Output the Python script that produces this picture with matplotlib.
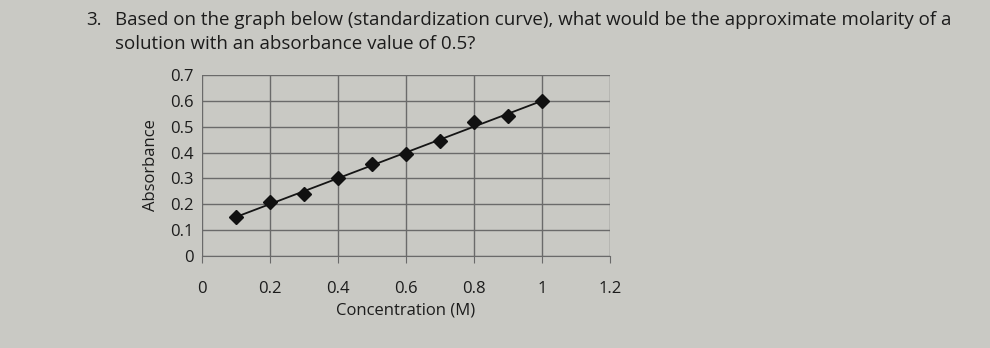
import numpy as np
import matplotlib.pyplot as plt

# standardization curve data
conc = [0.1, 0.2, 0.3, 0.4, 0.5, 0.6, 0.7, 0.8, 0.9, 1.0]
absorb = [0.15, 0.21, 0.24, 0.30, 0.355, 0.395, 0.445, 0.52, 0.54, 0.60]
x_ticks = [0, 0.2, 0.4, 0.6, 0.8, 1, 1.2]
y_ticks = [0, 0.1, 0.2, 0.3, 0.4, 0.5, 0.6, 0.7]

paper = '#c9c9c4'
grid_c = '#6a6a6a'
ink = '#1c1c1c'

plt.rcParams['font.family'] = ['Open Sans', 'DejaVu Sans']

fig = plt.figure(figsize=(9.9, 3.48), dpi=100)
fig.patch.set_facecolor(paper)

fig.text(86 / 990, 1 - 20 / 348, '3.', fontsize=13.5, color=ink, va='center')
fig.text(115 / 990, 1 - 20 / 348,
         'Based on the graph below (standardization curve), what would be the approximate molarity of a',
         fontsize=13.5, color=ink, va='center')
fig.text(115 / 990, 1 - 44 / 348, 'solution with an absorbance value of 0.5?',
         fontsize=13.5, color=ink, va='center')

ax = fig.add_axes([202 / 990, 1 - 256 / 348, 408 / 990, 181 / 348])
ax.set_facecolor(paper)
ax.set_xlim(0, 1.2)
ax.set_ylim(0, 0.7)
ax.set_xticks(x_ticks)
ax.set_yticks(y_ticks)
ax.set_xticklabels(['0', '0.2', '0.4', '0.6', '0.8', '1', '1.2'])
ax.set_yticklabels(['0', '0.1', '0.2', '0.3', '0.4', '0.5', '0.6', '0.7'])
ax.grid(True, color=grid_c, linewidth=1.0)
ax.set_axisbelow(True)
for s in ax.spines.values():
    s.set_visible(False)
ax.spines['bottom'].set_visible(True)
ax.spines['bottom'].set_color(grid_c)
ax.tick_params(labelsize=12, colors=ink)
ax.tick_params(axis='x', direction='out', length=5, color=grid_c, pad=13)
ax.tick_params(axis='y', length=0, pad=6)

# linear trendline through the standards
m, b = np.polyfit(conc, absorb, 1)
xs = np.array([conc[0], conc[-1]])
ax.plot(xs, m * xs + b, color='#151515', linewidth=1.3, zorder=3)
ax.plot(conc, absorb, 'D', color='#111111', markersize=7, zorder=4, clip_on=False)

ax.set_xlabel('Concentration (M)', fontsize=12, color=ink, labelpad=4)
ax.set_ylabel('Absorbance', fontsize=12, color=ink, labelpad=8)

fig.savefig('out.png', dpi=100, facecolor=paper)
